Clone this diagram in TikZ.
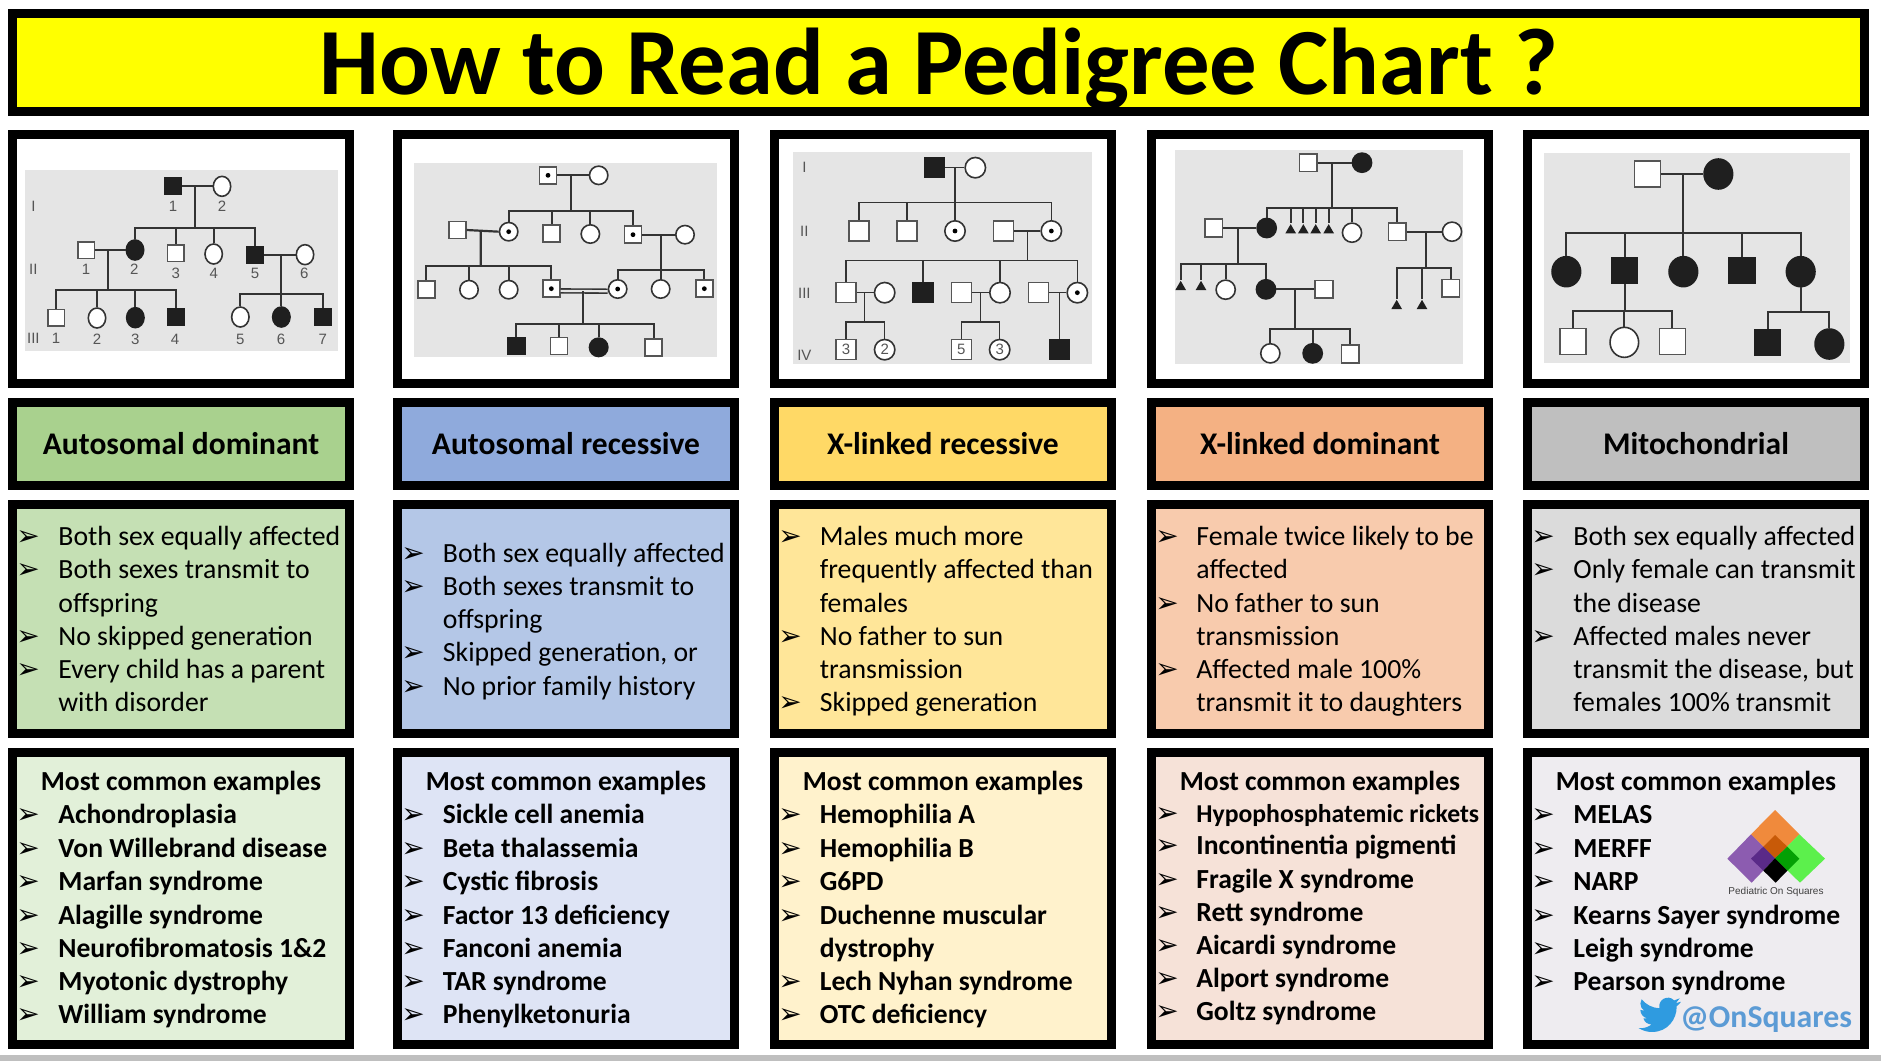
\documentclass[tikz,border=0pt]{standalone}
\usepackage{fontspec}
\setmainfont{Carlito}
\newfontfamily\pedfont{Liberation Sans}
\newfontfamily\dingfont{DejaVu Sans}
\usetikzlibrary{shapes.geometric}
\definecolor{titlefill}{HTML}{FFFF00}
\definecolor{hdra}{HTML}{A9D18E}
\definecolor{deta}{HTML}{C5E0B4}
\definecolor{exa}{HTML}{E2F0D9}
\definecolor{hdrb}{HTML}{8FAADC}
\definecolor{detb}{HTML}{B4C7E7}
\definecolor{exb}{HTML}{DEE4F5}
\definecolor{hdrc}{HTML}{FFD966}
\definecolor{detc}{HTML}{FFE699}
\definecolor{exc}{HTML}{FFF2CC}
\definecolor{hdrd}{HTML}{F4B183}
\definecolor{detd}{HTML}{F8CBAD}
\definecolor{exd}{HTML}{F6E2D8}
\definecolor{hdre}{HTML}{BFBFBF}
\definecolor{dete}{HTML}{DBDBDB}
\definecolor{exe}{HTML}{EEECF0}
\definecolor{panelgrey}{HTML}{E5E5E5}
\definecolor{pedline}{HTML}{333333}
\definecolor{pedtext}{HTML}{555555}
\definecolor{twblue}{HTML}{5B9BD5}
\definecolor{birdblue}{HTML}{2F9BE0}
\definecolor{logoorange}{HTML}{F08A3C}
\definecolor{logopurple}{HTML}{8C5CB0}
\definecolor{logogreen}{HTML}{5CF04C}
\definecolor{logodorange}{HTML}{C85A08}
\definecolor{logodpurple}{HTML}{5A2A88}
\definecolor{logodgreen}{HTML}{04A004}
\tikzset{
  colbox/.style={draw=black,line width=4.5pt,minimum width=168.5pt,inner sep=0pt},
  imgbox/.style={colbox,fill=white,minimum height=124.5pt},
  hdrbox/.style={colbox,minimum height=41.5pt,font=\fontsize{15.75}{18}\selectfont\bfseries},
  detbox/.style={colbox,minimum height=114.5pt},
  exbox/.style={colbox,minimum height=146pt},
  bodytxt/.style={anchor=base west,inner sep=0pt,font=\fontsize{13.88}{17}\selectfont},
  extxt/.style={bodytxt,font=\fontsize{13.8}{17}\selectfont\bfseries},
  exhead/.style={anchor=base,inner sep=0pt,font=\fontsize{13.77}{17}\selectfont\bfseries},
  arrowbul/.style={anchor=base west,inner sep=0pt,font=\dingfont\fontsize{14}{16}\selectfont},
  male/.style={rectangle,draw=pedtext,fill=white,line width=.8pt,inner sep=0pt,minimum size=\sq,text=pedtext,font=\pedfont\fontsize{7.5}{8}\selectfont},
  female/.style={ellipse,draw=pedline,fill=white,line width=.8pt,inner sep=0pt,minimum width=\cw,minimum height=\ch,text=pedtext,font=\pedfont\fontsize{7.5}{8}\selectfont},
  aff/.style={fill=black!88,draw=black!88},
  carrier/.style={path picture={\fill[black] (path picture bounding box.center) circle (1.2pt);}},
  miscarry/.style={regular polygon,regular polygon sides=3,fill=black!88,inner sep=0pt,minimum size=6.2pt},
  link/.style={draw=pedline,line width=1.1pt},
  pednum/.style={inner sep=0pt,text=pedtext,font=\pedfont\fontsize{7.5}{8}\selectfont},
  zoomed/.style={x=0.16667pt,y=-0.16667pt}
}
\begin{document}
\begin{tikzpicture}[x=0.5pt,y=-0.5pt]
\useasboundingbox (0,0) rectangle (1881,1061);
\fill[black!25] (0,1055) rectangle (1881,1061);
% title
\node[draw=black,line width=4.5pt,fill=titlefill,minimum width=926pt,minimum height=49pt,inner sep=0pt] (title) at (938.5,62.5) {};
\node[anchor=base,inner sep=0pt,font=\fontsize{47.4}{56}\selectfont\bfseries] (titletxt) at (939,94) {How to Read a Pedigree Chart ?};
% columns
\foreach \c/\x/\hd/\dt/\ex/\t in {a/181/hdra/deta/exa/Autosomal dominant,b/566/hdrb/detb/exb/Autosomal recessive,c/943/hdrc/detc/exc/X-linked recessive,d/1320/hdrd/detd/exd/X-linked dominant,e/1696/hdre/dete/exe/Mitochondrial}{
  \node[imgbox] (img\c) at (\x,259) {};
  \node[hdrbox,fill=\hd] (hdr\c) at (\x,444) {\t};
  \node[detbox,fill=\dt] (det\c) at (\x,619) {};
  \node[exbox,fill=\ex] (ex\c) at (\x,898.5) {};
  \node[exhead] (head\c) at (\x,790) {Most common examples};
}
% autosomal dominant text
\foreach \n/\y/\t in {1/545/Both sex equally affected,2/578/Both sexes transmit to,3/612/offspring,4/645/No skipped generation,5/678/Every child has a parent,6/711/with disorder}
  \node[bodytxt] (dta\n) at (58,\y) {\t};
\foreach \y in {545,578,645,678}
  \node[arrowbul] (bda\y) at (16,\y) {➢};
\foreach \n/\y/\t in {1/823.5/Achondroplasia,2/857/Von Willebrand disease,3/890/Marfan syndrome,4/924/Alagille syndrome,5/957/Neurofibromatosis 1\&2,6/990/Myotonic dystrophy,7/1023/William syndrome}
  \node[extxt] (exa\n) at (58,\y) {\t};
\foreach \y in {823.5,857,890,924,957,990,1023}
  \node[arrowbul] (bea\y) at (16,\y) {➢};
% autosomal recessive text
\foreach \n/\y/\t in {1/562/Both sex equally affected,2/595/Both sexes transmit to,3/628/offspring,4/661/{Skipped generation, or},5/695/No prior family history}
  \node[bodytxt] (dtb\n) at (442.5,\y) {\t};
\foreach \y in {562,595,661,695}
  \node[arrowbul] (bdb\y) at (401,\y) {➢};
\foreach \n/\y/\t in {1/823.5/Sickle cell anemia,2/857/Beta thalassemia,3/890/Cystic fibrosis,4/924/Factor 13 deficiency,5/957/Fanconi anemia,6/990/TAR syndrome,7/1023/Phenylketonuria}
  \node[extxt] (exb\n) at (442.5,\y) {\t};
\foreach \y in {823.5,857,890,924,957,990,1023}
  \node[arrowbul] (beb\y) at (401,\y) {➢};
% x-linked recessive text
\foreach \n/\y/\t in {1/545/Males much more,2/578/frequently affected than,3/612/females,4/645/No father to sun,5/678/transmission,6/711/Skipped generation}
  \node[bodytxt] (dtc\n) at (819.5,\y) {\t};
\foreach \y in {545,645,711}
  \node[arrowbul] (bdc\y) at (778,\y) {➢};
\foreach \n/\y/\t in {1/823.5/Hemophilia A,2/857/Hemophilia B,3/890/G6PD,4/924/Duchenne muscular,5/957/dystrophy,6/990/Lech Nyhan syndrome,7/1023/OTC deficiency}
  \node[extxt] (exc\n) at (819.5,\y) {\t};
\foreach \y in {823.5,857,890,924,990,1023}
  \node[arrowbul] (bec\y) at (778,\y) {➢};
% x-linked dominant text
\foreach \n/\y/\t in {1/545/Female twice likely to be,2/578/affected,3/612/No father to sun,4/645/transmission,5/678/Affected male 100\%,6/711/transmit it to daughters}
  \node[bodytxt] (dtd\n) at (1196,\y) {\t};
\foreach \y in {545,612,678}
  \node[arrowbul] (bdd\y) at (1155,\y) {➢};
\node[extxt,font=\fontsize{12.85}{15}\selectfont\bfseries] (exd1) at (1196,822) {Hypophosphatemic rickets};
\foreach \n/\y/\t in {2/854/Incontinentia pigmenti,3/888/Fragile X syndrome,4/921/Rett syndrome,5/954/Aicardi syndrome,6/987/Alport syndrome,7/1020/Goltz syndrome}
  \node[extxt] (exd\n) at (1196,\y) {\t};
\foreach \y in {822,854,888,921,954,987,1020}
  \node[arrowbul] (bed\y) at (1155,\y) {➢};
% mitochondrial text
\foreach \n/\y/\t in {1/545/Both sex equally affected,2/578/Only female can transmit,3/612/the disease,4/645/Affected males never,5/678/{transmit the disease, but},6/711/females 100\% transmit}
  \node[bodytxt] (dte\n) at (1573,\y) {\t};
\foreach \y in {545,578,645}
  \node[arrowbul] (bde\y) at (1531,\y) {➢};
\foreach \n/\y/\t in {1/823.5/MELAS,2/857/MERFF,3/890/NARP,4/924/Kearns Sayer syndrome,5/957/Leigh syndrome,6/990/Pearson syndrome}
  \node[extxt] (exe\n) at (1573,\y) {\t};
\foreach \y in {823.5,857,890,924,957,990}
  \node[arrowbul] (bee\y) at (1531,\y) {➢};
% pedigree 1
\begin{scope}[shift={(0,120)},zoomed]
\def\sq{8.3pt}\def\cw{8.7pt}\def\ch{10pt}
\fill[panelgrey] (76,150) rectangle (1013,692);
\node[male,aff] (a1) at (519,199) {};
\node[female] (a2) at (666,199) {};
\node[female,aff] (b2) at (405,390) {};
\node[male] (b3) at (527,400) {};
\node[female] (b4) at (641,402) {};
\node[male,aff] (b5) at (765,404) {};
\node[male] (b1) at (258,390) {};
\node[female] (b6) at (915,404) {};
\node[male] (c1) at (168,593) {};
\node[female] (c2) at (291,594) {};
\node[female,aff] (c3) at (406,593) {};
\node[male,aff] (c4) at (529,590) {};
\node[female] (c5) at (721,591) {};
\node[female,aff] (c6) at (844,591) {};
\node[male,aff] (c7) at (970,590) {};
\coordinate (m1) at (585,199);
\coordinate (s1) at (585,323);
\coordinate (m2) at (325,390);
\coordinate (s2) at (325,510);
\coordinate (m3) at (844,404);
\coordinate (s3) at (844,523);
\draw[link] (a1) -- (a2) (m1) -- (s1);
\draw[link] (b1) -- (b2) (m2) -- (s2);
\draw[link] (b5) -- (b6) (m3) -- (s3);
\foreach \k in {b2,b3,b4,b5} \draw[link] (s1) -| (\k);
\foreach \k in {c1,c2,c3,c4} \draw[link] (s2) -| (\k);
\foreach \k in {c5,c6,c7} \draw[link] (s3) -| (\k);
\foreach \x/\y/\t in {100/258/I,519/258/1,666/258/2,100/449/II,258/447/1,403/447/2,527/460/3,641/460/4,765/460/5,913/460/6,100/655/III,168/655/1,291/657/2,406/657/3,525/657/4,721/657/5,843/657/6,968/657/7}
  \node[pednum] (t\x-\y) at (\x,\y) {\t};
\end{scope}
% pedigree 2
\begin{scope}[shift={(385,120)},zoomed]
\def\sq{8.5pt}\def\cw{9.2pt}\def\ch{9.2pt}
\fill[panelgrey] (87,130) rectangle (997,712);
\node[male,carrier] (d1) at (489,166) {};
\node[female] (d2) at (641,166) {};
\node[male] (e1) at (217,330) {};
\node[female,carrier] (e2) at (371,335) {};
\node[male] (e3) at (500,340) {};
\node[female] (e4) at (616,342) {};
\node[male,carrier] (e5) at (744,344) {};
\node[female] (e6) at (900,344) {};
\node[male] (f1) at (124,509) {};
\node[female] (f2) at (252,509) {};
\node[female] (f3) at (371,509) {};
\node[male,carrier] (f4) at (499,506) {};
\node[female,carrier] (f5) at (698,507) {};
\node[female] (f6) at (827,507) {};
\node[male,carrier] (f7) at (958,506) {};
\node[male,aff] (g1) at (394,678) {};
\node[male] (g2) at (522,678) {};
\node[female,aff] (g3) at (641,682) {};
\node[male] (g4) at (806,682) {};
\coordinate (m4) at (557,166);
\coordinate (s4) at (557,273);
\coordinate (m5) at (287,333);
\coordinate (s5) at (287,437);
\coordinate (m6) at (827,344);
\coordinate (s6) at (827,450);
\coordinate (m7) at (593,514);
\coordinate (s7) at (593,613);
\draw[link] (d1) -- (d2) (m4) -- (s4);
\draw[link] (e1.east) -- (e2.west) (m5) -- (s5);
\draw[link] (e5) -- (e6) (m6) -- (s6);
\draw[link,double=panelgrey,double distance=1.1pt,line width=.8pt] ([yshift=-1.1pt]f4.east) -- ([yshift=-1.1pt]f5.west);
\draw[link] (m7) -- (s7);
\foreach \k in {e2,e3,e4,e5} \draw[link] (s4) -| (\k);
\foreach \k in {f1,f2,f3,f4} \draw[link] (s5) -| (\k);
\foreach \k in {f5,f6,f7} \draw[link] (s6) -| (\k);
\foreach \k in {g1,g2,g3,g4} \draw[link] (s7) -| (\k);
\end{scope}
% pedigree 3
\begin{scope}[shift={(760,120)},zoomed,link/.style={draw=pedline,line width=.7pt}]
\def\sq{10pt}\def\cw{10.2pt}\def\ch{10.2pt}
\fill[panelgrey] (98,97) rectangle (997,732);
\node[male,aff] (h1) at (524,143) {};
\node[female] (h2) at (646,143) {};
\node[male] (i1) at (297,333) {};
\node[male] (i2) at (441,333) {};
\node[female,carrier] (i3) at (585,333) {};
\node[male] (i4) at (730,333) {};
\node[female,carrier] (i5) at (874,333) {};
\node[male] (j1) at (258,518) {};
\node[female] (j2) at (374,518) {};
\node[male,aff] (j3) at (489,518) {};
\node[male] (j4) at (604,518) {};
\node[female] (j5) at (720,518) {};
\node[male] (j6) at (836,518) {};
\node[female,carrier] (j7) at (952,518) {};
\node[male] (k1) at (258,689) {3};
\node[female] (k2) at (374,689) {2};
\node[male] (k3) at (604,689) {5};
\node[female] (k4) at (719,689) {3};
\node[male,aff] (k5) at (898,689) {};
\coordinate (m8) at (585,143);
\coordinate (s8) at (585,248);
\coordinate (m9) at (802,333);
\coordinate (s9) at (802,421);
\coordinate (m10) at (313,518);
\coordinate (s10) at (313,606);
\coordinate (m11) at (661,518);
\coordinate (s11) at (661,606);
\coordinate (m12) at (898,518);
\draw[link] (h1) -- (h2) (m8) -- (s8);
\draw[link] (i4) -- (i5) (m9) -- (s9);
\draw[link] (j1) -- (j2) (m10) -- (s10);
\draw[link] (j4) -- (j5) (m11) -- (s11);
\draw[link] (j6) -- (j7) (m12) -- (k5);
\foreach \k in {i1,i2,i3,i5} \draw[link] (s8) -| (\k);
\foreach \k in {j1,j3,j5,j7} \draw[link] (s9) -| (\k);
\foreach \k in {k1,k2} \draw[link] (s10) -| (\k);
\foreach \k in {k3,k4} \draw[link] (s11) -| (\k);
\foreach \y/\t in {143/I,333/II,520/III,705/IV}
  \node[pednum] (r\y) at (133,\y) {\t};
\end{scope}
% pedigree 4
\begin{scope}[shift={(1140,120)},zoomed]
\def\sq{8.8pt}\def\cw{9.6pt}\def\ch{9.6pt}
\fill[panelgrey] (106,90) rectangle (970,733);
\node[male] (l1) at (505,128) {};
\node[female,aff] (l2) at (666,128) {};
\node[male] (o1) at (221,324) {};
\node[female,aff] (o2) at (380,324) {};
\node[miscarry] (o3) at (452,331) {};
\node[miscarry] (o4) at (490,331) {};
\node[miscarry] (o5) at (527,331) {};
\node[miscarry] (o6) at (566,331) {};
\node[female] (o7) at (636,338) {};
\node[male] (o8) at (772,335) {};
\node[female] (o9) at (936,335) {};
\node[miscarry] (q1) at (122,501) {};
\node[miscarry] (q2) at (183,501) {};
\node[female] (q3) at (257,509) {};
\node[female,aff] (q4) at (378,508) {};
\node[male] (q5) at (552,508) {};
\node[miscarry] (q6) at (770,558) {};
\node[miscarry] (q7) at (846,558) {};
\node[male] (q8) at (932,505) {};
\node[female] (u1) at (391,700) {};
\node[female,aff] (u2) at (518,700) {};
\node[male] (u3) at (631,702) {};
\coordinate (m13) at (577,128);
\coordinate (s13) at (577,263);
\coordinate (m14) at (293,324);
\coordinate (s14) at (293,433);
\coordinate (m15) at (858,335);
\coordinate (s15) at (858,445);
\coordinate (m16) at (465,508);
\coordinate (s16) at (465,628);
\draw[link] (l1) -- (l2) (m13) -- (s13);
\draw[link] (o1) -- (o2) (m14) -- (s14);
\draw[link] (o8) -- (o9) (m15) -- (s15);
\draw[link] (q4) -- (q5) (m16) -- (s16);
\foreach \k in {o2,o3,o4,o5,o6,o7,o8} \draw[link] (s13) -| (\k);
\foreach \k in {q1,q2,q3,q4} \draw[link] (s14) -| (\k);
\foreach \k in {q6,q7,q8} \draw[link] (s15) -| (\k);
\foreach \k in {u1,u2,u3} \draw[link] (s16) -| (\k);
\end{scope}
% pedigree 5
\begin{scope}[shift={(1511,120)},zoomed]
\def\sq{13pt}\def\cw{14.3pt}\def\ch{15pt}
\fill[panelgrey] (98,100) rectangle (1018,728);
\node[male] (v1) at (409,162) {};
\node[female,aff] (v2) at (622,162) {};
\node[female,aff] (w1) at (166,455) {};
\node[male,aff] (w2) at (341,451) {};
\node[female,aff] (w3) at (517,455) {};
\node[male,aff] (w4) at (693,451) {};
\node[female,aff] (w5) at (869,455) {};
\node[male] (y1) at (186,665) {};
\node[female] (y2) at (340,667) {};
\node[male] (y3) at (484,665) {};
\node[male,aff] (y4) at (770,668) {};
\node[female,aff] (y5) at (955,672) {};
\coordinate (m17) at (516,162);
\coordinate (s17) at (516,340);
\coordinate (s18) at (341,573);
\coordinate (s19) at (869,575);
\draw[link] (v1) -- (v2) (m17) -- (s17);
\draw[link] (w2) -- (s18);
\draw[link] (w5) -- (s19);
\foreach \k in {w1,w2,w3,w4,w5} \draw[link] (s17) -| (\k);
\foreach \k in {y1,y2,y3} \draw[link] (s18) -| (\k);
\foreach \k in {y4,y5} \draw[link] (s19) -| (\k);
\end{scope}
% logo
\begin{scope}[shift={(1710,800)},zoomed]
\fill[logoorange] (195,30) -- (268,103) -- (195,175) -- (123,103) -- cycle;
\fill[logopurple] (123,103) -- (195,175) -- (125,248) -- (52,176) -- cycle;
\fill[logogreen] (268,103) -- (345,176) -- (270,248) -- (195,175) -- cycle;
\fill[logodorange] (195,105) -- (232,140) -- (195,175) -- (160,140) -- cycle;
\fill[logodpurple] (160,140) -- (195,175) -- (160,212) -- (123,176) -- cycle;
\fill[logodgreen] (232,140) -- (268,176) -- (232,212) -- (195,175) -- cycle;
\fill[black] (195,175) -- (232,212) -- (197,248) -- (160,212) -- cycle;
\node[inner sep=0pt,text=black!75,font=\pedfont\fontsize{5}{6}\selectfont] (logotxt) at (198,276) {Pediatric On Squares};
\end{scope}
% twitter
\fill[birdblue,shift={(1638.7,993.7)},x=0.88pt,y=-0.88pt] (23.95,4.57) -- (21.13,5.35) -- (23.29,2.62) -- (20.16,3.8)
  .. controls (16.68,0.16) and (10.68,3.38) .. (11.78,8.29)
  .. controls (7.69,8.1) and (4.07,6.13) .. (1.64,3.16)
  .. controls (1.22,3.9) and (0.97,4.75) .. (0.97,5.64)
  .. controls (0.97,7.35) and (1.84,8.85) .. (3.16,9.73)
  .. controls (2.35,9.71) and (1.6,9.49) .. (0.93,9.12)
  .. controls (0.93,11.55) and (2.62,13.55) .. (4.88,14)
  .. controls (4.17,14.2) and (3.4,14.2) .. (2.67,14.09)
  .. controls (3.3,16.05) and (5.12,17.45) .. (7.27,17.5)
  .. controls (5.58,18.82) and (3.45,19.6) .. (1.17,19.6)
  .. controls (0.78,19.6) and (0.39,19.58) .. (0,19.54)
  .. controls (2.19,20.94) and (4.77,21.75) .. (7.56,21.75)
  .. controls (16.61,21.75) and (21.55,14.26) .. (21.55,7.77)
  .. controls (21.55,7.56) and (21.55,7.35) .. (21.54,7.14)
  .. controls (22.5,6.45) and (23.33,5.58) .. (24,4.59) -- cycle;
\node[anchor=base west,inner sep=0pt,text=twblue,font=\fontsize{15.9}{18}\selectfont\bfseries] (twtxt) at (1680,1027) {@OnSquares};
\end{tikzpicture}
\end{document}
